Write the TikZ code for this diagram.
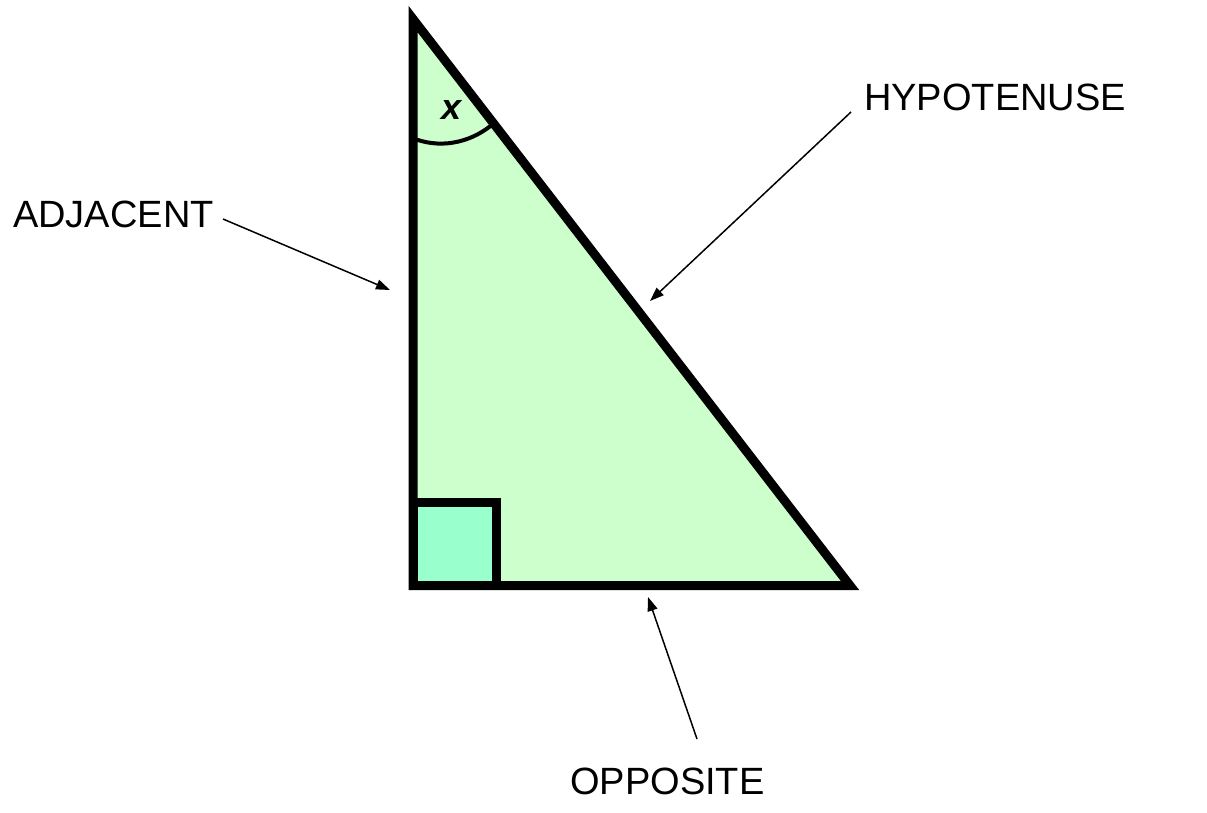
\documentclass[tikz,border=0pt]{standalone}
\usepackage{fontspec}
\setmainfont{Liberation Sans}
\usetikzlibrary{arrows.meta}
\definecolor{trifill}{HTML}{CCFFCC}
\definecolor{sqfill}{HTML}{99FFCC}
\tikzset{
  side/.style={line width=9pt, line join=miter, miter limit=20},
  pointer/.style={line width=1.5pt, -{Triangle[length=14pt,width=10pt]}},
  lbl/.style={inner sep=0pt, font=\fontsize{38}{44}\selectfont},
}
\begin{document}
\begin{tikzpicture}[x=1pt,y=-1pt]
\useasboundingbox (0,0) rectangle (1207,813);
% vertices
\coordinate (T) at (413,19);
\coordinate (L) at (413,585.5);
\coordinate (R) at (850,585.5);
\fill[trifill] (T) -- (L) -- (R) -- cycle;
% right-angle square
\draw[side, fill=sqfill] (413,502) rectangle (496.5,585.5);
\draw[side] (T) -- (L) -- (R) -- cycle;
% angle arc
\draw[line width=4pt] (415,139) .. controls (445,150) and (475,140) .. (494,123);
\node[inner sep=0pt, font=\fontsize{36}{40}\selectfont\bfseries\itshape] (x) at (451.5,110) {x};
% labels
\node[lbl, anchor=west] (adj) at (13,214) {ADJACENT};
\node[lbl, anchor=west] (hyp) at (864,97) {HYPOTENUSE};
\node[lbl, anchor=west] (opp) at (570,781) {OPPOSITE};
% arrow endpoints
\coordinate (adjtail) at (223,219);
\coordinate (adjtip) at (390,290);
\coordinate (hyptail) at (851,112);
\coordinate (hyptip) at (650,301);
\coordinate (opptail) at (697,739);
\coordinate (opptip) at (648,597);
\draw[pointer] (adjtail) -- (adjtip);
\draw[pointer] (hyptail) -- (hyptip);
\draw[pointer] (opptail) -- (opptip);
\end{tikzpicture}
\end{document}
